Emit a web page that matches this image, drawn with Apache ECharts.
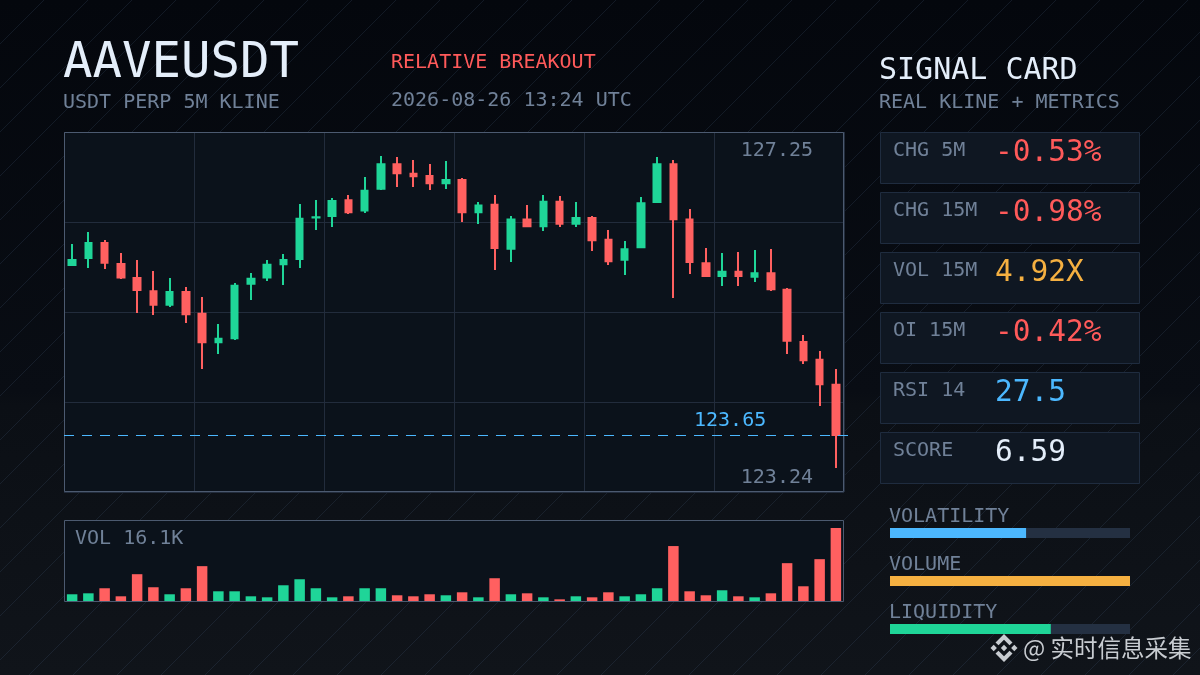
<!DOCTYPE html>
<html>
<head>
<meta charset="utf-8">
<style>html,body{margin:0;padding:0;background:#05080e}#c{width:1200px;height:675px}</style>
<script src="https://cdn.jsdelivr.net/npm/echarts@6/dist/echarts.min.js"></script>
</head>
<body>
<div id="c"></div>
<script>
const opens  = [125.83,125.92,126.14,125.87,125.69,125.52,125.32,125.51,125.23,124.84,124.89,125.59,125.67,125.84,125.91,126.44,126.46,126.69,126.53,126.81,127.15,127.03,127.00,126.88,126.95,126.51,126.63,126.04,126.44,126.33,126.67,126.36,126.46,126.18,125.90,126.06,126.64,127.15,126.44,125.88,125.69,125.77,125.68,125.75,125.54,124.87,124.64,124.32];
const closes = [125.92,126.14,125.86,125.67,125.51,125.32,125.51,125.20,124.84,124.91,125.59,125.68,125.86,125.92,126.45,126.47,126.68,126.51,126.81,127.15,127.01,126.97,126.88,126.95,126.51,126.62,126.05,126.44,126.33,126.67,126.36,126.46,126.15,125.88,126.06,126.65,127.15,126.42,125.87,125.69,125.77,125.69,125.75,125.52,124.86,124.61,124.30,123.65];
const lows   = [125.83,125.81,125.79,125.67,125.23,125.20,125.31,125.10,124.51,124.70,124.88,125.40,125.64,125.59,125.81,126.29,126.33,126.50,126.51,126.81,126.85,126.85,126.81,126.82,126.40,126.37,125.78,125.88,126.33,126.28,126.33,126.33,126.02,125.84,125.72,126.06,126.64,125.42,125.73,125.69,125.58,125.58,125.63,125.51,124.70,124.57,124.03,123.24];
const highs  = [126.11,126.27,126.17,126.00,125.91,125.77,125.68,125.56,125.43,125.09,125.61,125.74,125.91,125.99,126.63,126.68,126.70,126.74,126.97,127.25,127.23,127.19,127.14,127.18,126.96,126.65,126.74,126.47,126.62,126.74,126.73,126.65,126.47,126.29,126.15,126.72,127.23,127.19,126.56,126.06,126.00,126.01,126.04,126.05,125.55,124.95,124.74,124.51];
const volumes = [1.68,1.89,2.99,1.24,6.05,3.21,1.68,2.99,7.80,2.33,2.33,1.24,1.02,3.64,4.95,2.99,1.02,1.24,2.99,2.99,1.46,1.24,1.68,1.46,2.11,1.02,5.17,1.68,1.89,1.02,0.58,1.24,1.02,2.11,1.24,1.68,2.99,12.17,2.33,1.46,2.55,1.24,1.02,1.89,8.45,3.42,9.32,16.10];
const lastPrice = 123.65;

const metricLabels = ['CHG 5M','CHG 15M','VOL 15M','OI 15M','RSI 14','SCORE'];
const metricValues = ['-0.53%','-0.98%','4.92X','-0.42%','27.5','6.59'];
const meterLabels = ['VOLATILITY','VOLUME','LIQUIDITY'];
const meterValues = [0.567,1,0.67];

const GREEN='#1fd598', RED='#ff6060', BLUE='#4cb8ff', ORANGE='#f5b041', WHITE='#e4eefa', MUTED='#708198';
const metricColors = [ '#ff5a5a','#ff5a5a',ORANGE,'#ff5a5a',BLUE,WHITE ];
const meterColors = [BLUE,ORANGE,GREEN];
const MONO='"DejaVu Sans Mono"';

const cats = opens.map((_,i)=>String(i));
const candleData = opens.map((o,i)=>[o,closes[i],lows[i],highs[i]]);
const wickData = opens.map((o,i)=>[i,lows[i],highs[i],closes[i]>=o?1:0]);
const volData = volumes.map((v,i)=>({value:v,itemStyle:{color:closes[i]>=opens[i]?GREEN:RED}}));

function txt(x,y,text,size,fill,align){
  return {type:'text',z:20,silent:true,style:{x,y:y+size*0.1,text,fill,font:size+'px '+MONO,textAlign:align||'left',textVerticalAlign:'middle'}};
}
const gfx=[];
for(let c=44;c<=1900;c+=44){
  gfx.push({type:'line',z:-10,silent:true,shape:{x1:c,y1:0,x2:0,y2:c},style:{stroke:'rgba(70,90,125,0.22)',lineWidth:1}});
}
gfx.push({type:'rect',z:6,silent:true,shape:{x:64.5,y:132.5,width:779,height:359},style:{fill:null,stroke:'#4c5a70',lineWidth:1}});
gfx.push({type:'rect',z:6,silent:true,shape:{x:64.5,y:520.5,width:779,height:81},style:{fill:null,stroke:'#4c5a70',lineWidth:1}});
gfx.push(txt(63,59,'AAVEUSDT',49,WHITE));
gfx.push(txt(63,101,'USDT PERP 5M KLINE',20,MUTED));
gfx.push(txt(391,61,'RELATIVE BREAKOUT',20,'#ff5a5a'));
gfx.push(txt(391,99,'2026-08-26 13:24 UTC',20,MUTED));
gfx.push(txt(879,68.5,'SIGNAL CARD',30,WHITE));
gfx.push(txt(879,101,'REAL KLINE + METRICS',20,MUTED));
gfx.push(txt(813,149,'127.25',20,MUTED,'right'));
gfx.push(txt(813,475.5,'123.24',20,MUTED,'right'));
gfx.push(txt(694,419,'123.65',20,BLUE));
gfx.push(txt(75,537,'VOL 16.1K',20,MUTED));
metricLabels.forEach((l,i)=>{
  const y=132+60*i;
  gfx.push({type:'rect',z:1,silent:true,shape:{x:880.5,y:y+0.5,width:259,height:51},style:{fill:'#0f1722',stroke:'#1f2c3f',lineWidth:1}});
  gfx.push(txt(893,y+17,l,20,MUTED));
  gfx.push(txt(995,y+18,metricValues[i],29.5,metricColors[i]));
});
meterLabels.forEach((l,i)=>gfx.push(txt(889,515+48*i,l,20,MUTED)));
// watermark
const LOGO='#c8ccd1', cx=1004, cy=648;
[[[0,-3.2],[3.2,0],[0,3.2],[-3.2,0]],
 [[-10.3,-3.2],[-7.1,0],[-10.3,3.2],[-13.5,0]],
 [[10.3,-3.2],[13.5,0],[10.3,3.2],[7.1,0]],
 [[0,-14],[8.5,-5.5],[5.5,-2.8],[0,-8.2],[-5.5,-2.8],[-8.5,-5.5]],
 [[0,14],[8.5,5.5],[5.5,2.8],[0,8.2],[-5.5,2.8],[-8.5,5.5]]
].forEach(p=>gfx.push({type:'polygon',z:20,silent:true,shape:{points:p.map(q=>[cx+q[0],cy+q[1]])},style:{fill:LOGO}}));
gfx.push({type:'text',z:20,silent:true,style:{x:1023,y:648,text:'@ 实时信息采集',fill:LOGO,font:'23.5px "Noto Sans CJK SC"',textVerticalAlign:'middle'}});

const chart=echarts.init(document.getElementById('c'),null,{renderer:'canvas',width:1200,height:675});
const hiddenAxis={axisLine:{show:false},axisTick:{show:false},axisLabel:{show:false},splitLine:{show:false}};
chart.setOption({
  animation:false,
  backgroundColor:{type:'linear',x:0,y:0,x2:0,y2:1,colorStops:[{offset:0,color:'#04070d'},{offset:0.58,color:'#090d14'},{offset:0.6,color:'#0b0f15'},{offset:1,color:'#10141a'}]},
  grid:[
    {left:64,top:132,width:780,height:360,show:true,backgroundColor:'#0b121b',borderWidth:0},
    {left:64,top:520,width:780,height:82,show:true,backgroundColor:'#0b121b',borderWidth:0},
    {left:890,top:509,width:240,height:144,show:false}
  ],
  xAxis:[
    {type:'category',gridIndex:0,data:cats,boundaryGap:true,axisLine:{show:false},axisTick:{show:false},axisLabel:{show:false},splitLine:{show:true,interval:7,lineStyle:{color:'#222c3c',width:1}}},
    {type:'category',gridIndex:1,data:cats,boundaryGap:true,...hiddenAxis},
    {type:'value',gridIndex:2,min:0,max:1,...hiddenAxis}
  ],
  yAxis:[
    {type:'value',gridIndex:0,min:122.93,max:127.552,scale:true,...hiddenAxis},
    {type:'value',gridIndex:0,min:0,max:4,interval:1,axisLine:{show:false},axisTick:{show:false},axisLabel:{show:false},splitLine:{show:true,lineStyle:{color:'#222c3c',width:1}}},
    {type:'value',gridIndex:1,min:0,max:17.84,...hiddenAxis},
    {type:'category',gridIndex:2,inverse:true,data:meterLabels,...hiddenAxis}
  ],
  series:[
    {type:'custom',name:'wicks',xAxisIndex:0,yAxisIndex:0,data:wickData,clip:false,encode:{x:0,y:[1,2]},
      renderItem(params,api){
        const lo=api.coord([api.value(0),api.value(1)]);
        const hi=api.coord([api.value(0),api.value(2)]);
        const top=Math.round(hi[1]);
        return {type:'rect',shape:{x:Math.round(lo[0])-1,y:top,width:2,height:Math.round(lo[1])-top},style:{fill:api.value(3)?GREEN:RED}};
      }},
    {type:'candlestick',name:'AAVEUSDT',xAxisIndex:0,yAxisIndex:0,data:candleData,barWidth:9,
      itemStyle:{color:GREEN,color0:RED,borderColor:GREEN,borderColor0:RED,borderWidth:0}},
    {type:'bar',name:'VOL',xAxisIndex:1,yAxisIndex:2,data:volData,barWidth:10.5},
    {type:'bar',name:'meters',xAxisIndex:2,yAxisIndex:3,barWidth:10,
      data:meterValues.map((v,i)=>({value:v,itemStyle:{color:meterColors[i]}})),
      showBackground:true,backgroundStyle:{color:'#243042'}}
  ],
  graphic:{elements:gfx}
});
const py=Math.floor(chart.convertToPixel({yAxisIndex:0},lastPrice))+0.5;
gfx.push({type:'line',z:8,silent:true,shape:{x1:64,y1:py,x2:848,y2:py},style:{stroke:BLUE,lineWidth:1,lineDash:[10,8]}});
chart.setOption({graphic:{elements:gfx}});
</script>
</body>
</html>
